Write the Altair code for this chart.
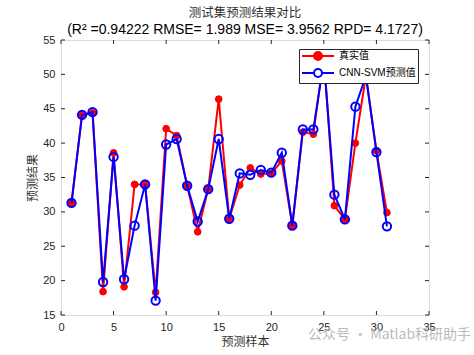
import altair as alt
import pandas as pd

# ---------------- data ----------------
SAMPLES = list(range(1, 32))
REAL = [31.3, 44.1, 44.4, 18.4, 38.6, 19.1, 34.0, 34.0, 18.3, 42.1,
        41.1, 33.8, 27.1, 33.3, 46.4, 29.0, 33.9, 36.4, 35.5, 35.6,
        37.4, 28.0, 41.6, 41.3, 52.5, 30.9, 28.9, 40.0, 49.8, 38.9, 29.9]
PRED = [31.3, 44.1, 44.5, 19.8, 38.0, 20.2, 28.0, 34.0, 17.1, 39.8,
        40.6, 33.8, 28.6, 33.3, 40.6, 29.0, 35.6, 35.4, 36.1, 35.7,
        38.6, 28.0, 42.0, 42.0, 52.0, 32.5, 28.9, 45.3, 49.8, 38.7, 27.9]
SERIES = ["真实值", "CNN-SVM预测值"]
X_TICKS = [0, 5, 10, 15, 20, 25, 30, 35]
Y_TICKS = [15, 20, 25, 30, 35, 40, 45, 50, 55]
TITLE = "测试集预测结果对比"
SUBTITLE = "(R² =0.94222 RMSE= 1.989 MSE= 3.9562 RPD= 4.1727)"
X_TITLE = "预测样本"
Y_TITLE = "预测结果"
WATERMARK = "公众号 · Matlab科研助手"

df = pd.DataFrame({
    "idx": SAMPLES * 2,
    "value": REAL + PRED,
    "series": [SERIES[0]] * len(REAL) + [SERIES[1]] * len(PRED),
})
xt = pd.DataFrame({"idx": X_TICKS})
yt = pd.DataFrame({"value": Y_TICKS})

W, H = 368, 275
AX = "#262626"

xscale = alt.Scale(domain=[0, 35], nice=False, zero=False)
yscale = alt.Scale(domain=[15, 55], nice=False, zero=False)

LEG_PATH = "M-1,0L2,0M4,0L7,0M2,0A1,1,0,1,1,4,0A1,1,0,1,1,2,0Z"
legend = alt.Legend(
    title=None, orient="none", legendX=238, legendY=9,
    symbolType=LEG_PATH, symbolSize=64, symbolStrokeWidth=2,
    labelFont="Liberation Sans, Noto Sans CJK SC", labelFontSize=10,
    labelColor="#000000", labelOffset=28, padding=2, rowPadding=1,
    fillColor="#ffffff", strokeColor=AX, cornerRadius=0,
)
stroke_enc = alt.Stroke("series:N", scale=alt.Scale(domain=SERIES, range=["#ff0000", "#0000ff"]), legend=legend)
fill_enc = alt.Fill("series:N", scale=alt.Scale(domain=SERIES, range=["#ff0000", "transparent"]), legend=legend)

x_axis = alt.Axis(
    values=X_TICKS, ticks=False, tickSize=0, domain=False, grid=False,
    labelFont="Liberation Sans", labelFontSize=11, labelColor=AX,
    labelPadding=6, labelFlush=False, labelOverlap=False,
    title=X_TITLE, titleFont="Noto Sans CJK SC", titleFontSize=12,
    titleFontWeight="normal", titleColor="#333333", titlePadding=4)
y_axis = alt.Axis(
    values=Y_TICKS, ticks=False, tickSize=0, domain=False, grid=False,
    labelFont="Liberation Sans", labelFontSize=11, labelColor=AX,
    labelPadding=6, labelFlush=False, labelOverlap=False,
    title=Y_TITLE, titleFont="Noto Sans CJK SC", titleFontSize=12,
    titleFontWeight="normal", titleColor="#333333", titlePadding=3)

x_enc = alt.X("idx:Q", scale=xscale, axis=x_axis)
y_enc = alt.Y("value:Q", scale=yscale, axis=y_axis)

base = alt.Chart(df).encode(x=x_enc, y=y_enc)

red_line = base.transform_filter(alt.datum.series == SERIES[0]).mark_line(strokeWidth=2).encode(stroke=stroke_enc)
red_pts = base.transform_filter(alt.datum.series == SERIES[0]).mark_point(
    size=45, strokeWidth=1, opacity=1).encode(stroke=stroke_enc, fill=fill_enc)
blue_line = base.transform_filter(alt.datum.series == SERIES[1]).mark_line(strokeWidth=2).encode(stroke=stroke_enc)
blue_pts = base.transform_filter(alt.datum.series == SERIES[1]).mark_point(
    size=70, strokeWidth=2, opacity=1).encode(stroke=stroke_enc, fill=fill_enc)

tick_x = alt.Chart(xt).encode(x=x_enc)
tick_y = alt.Chart(yt).encode(y=y_enc)
tb = tick_x.mark_rule(color=AX, strokeWidth=1).encode(y=alt.value(H), y2=alt.value(H - 4))
tt = tick_x.mark_rule(color=AX, strokeWidth=1).encode(y=alt.value(0), y2=alt.value(4))
tl = tick_y.mark_rule(color=AX, strokeWidth=1).encode(x=alt.value(0), x2=alt.value(4))
tr = tick_y.mark_rule(color=AX, strokeWidth=1).encode(x=alt.value(W), x2=alt.value(W - 4))

wm = alt.Chart(pd.DataFrame({"t": [WATERMARK]})).mark_text(
    align="left", baseline="middle", font="Noto Sans CJK SC", fontSize=14,
    color="#bcbcbc").encode(text="t:N", x=alt.value(247), y=alt.value(295))

chart = alt.layer(red_line, red_pts, blue_line, blue_pts, tb, tt, tl, tr, wm).properties(
    width=W, height=H,
    title=alt.TitleParams(
        text=TITLE, subtitle=SUBTITLE, anchor="middle",
        font="Noto Sans CJK SC", fontSize=12.5, fontWeight="normal", color="#333333",
        subtitleFont="Liberation Sans", subtitleFontSize=14, subtitleColor="#000000",
        subtitlePadding=4, offset=-3),
    autosize=alt.AutoSizeParams(type="none"),
    padding={"left": 61, "top": 40, "right": 45, "bottom": 40},
).configure_view(stroke=AX, strokeWidth=1).configure(background="white")

chart.save("out.html", embed_options={"renderer": "svg", "actions": False})
